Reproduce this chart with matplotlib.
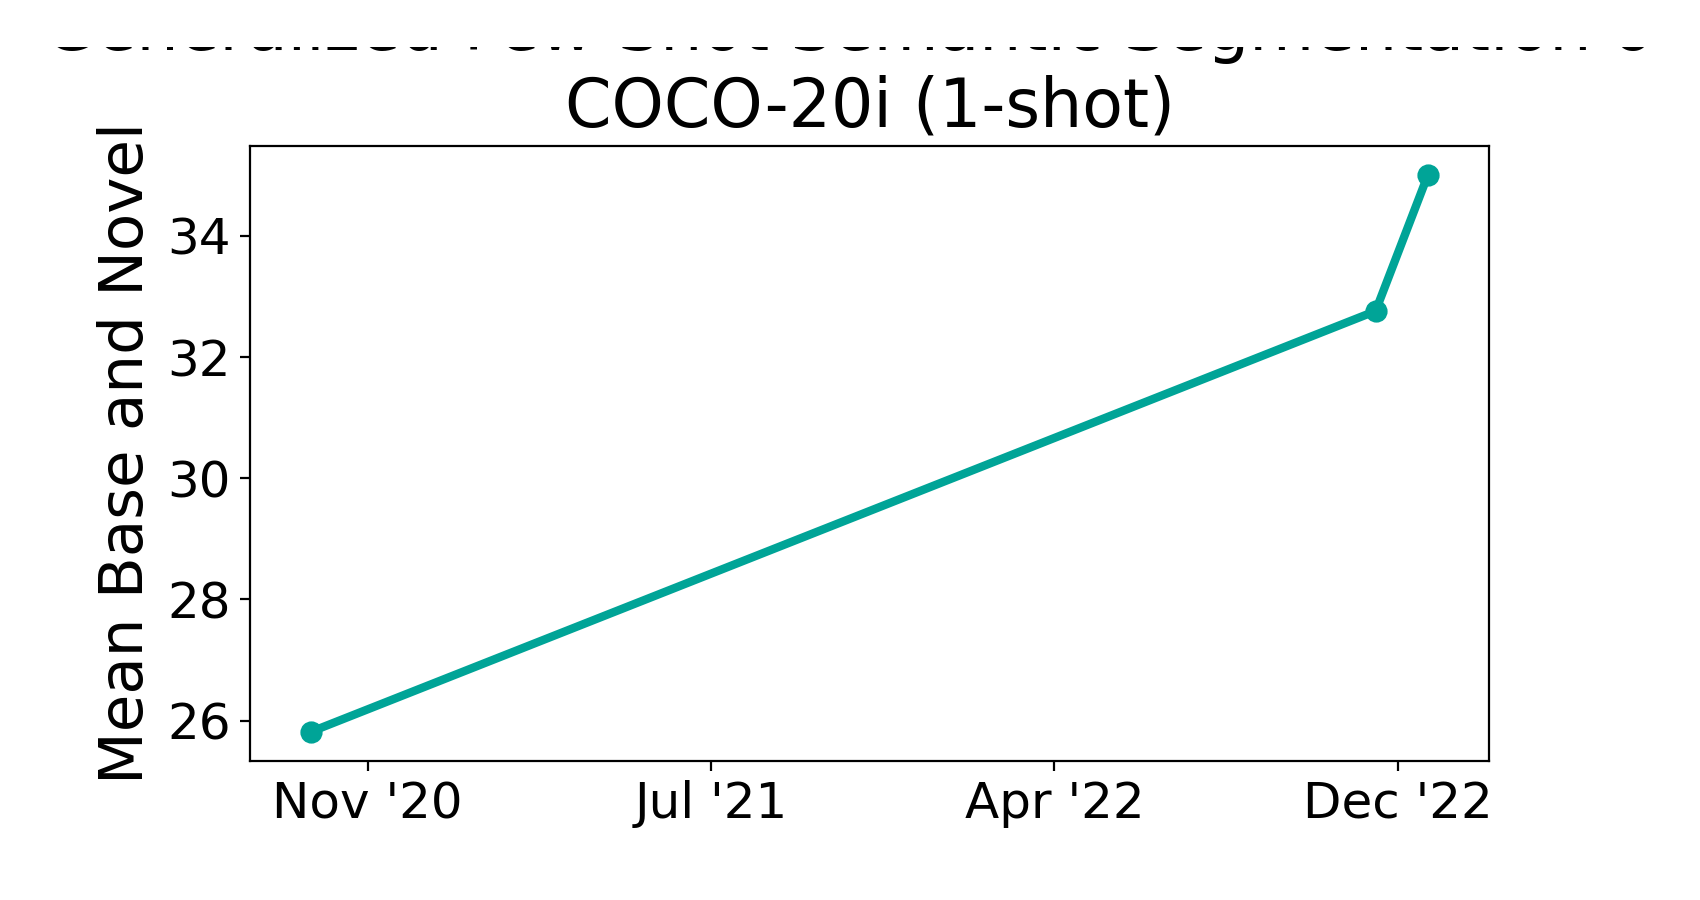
import matplotlib
matplotlib.use("Agg")

import matplotlib.dates as mdates
import matplotlib.pyplot as plt
import numpy as np
from matplotlib.transforms import Bbox, TransformedBbox

# values
release_dates = ["2020-10-11", "2022-11-25", "2023-01-02"]
mean_miou = [25.82, 32.76, 35.0]
tick_range = ["2020-11-21", "2022-12-11"]

title = "Generalized Few-Shot Semantic Segmentation on\nCOCO-20i (1-shot)"
y_label = "Mean Base and Novel"
line_color = "#00a497"


def main() -> None:
    dates = np.array(release_dates, dtype="datetime64[D]").astype("O")

    fig = plt.figure(figsize=(8.5, 4.5), dpi=200)
    ax = fig.add_axes([0.1471, 0.1544, 0.876 - 0.1471, 0.838 - 0.1544])

    ax.plot(dates, mean_miou, color=line_color, linewidth=3, marker="o", markersize=7)
    ax.margins(x=0.055, y=0.053)

    t0, t1 = mdates.date2num(np.array(tick_range, dtype="datetime64[D]").astype("O"))
    ax.set_xticks(np.linspace(t0, t1, 4))
    ax.xaxis.set_major_formatter(mdates.DateFormatter("%b '%y"))
    ax.set_yticks([26, 28, 30, 32, 34])
    ax.tick_params(labelsize=18)

    ax.set_ylabel(y_label, fontsize=22)
    ttl = ax.set_title(title, fontsize=24, pad=7)
    # the top line of the title is cut off in the reference
    clip = Bbox([[0, 0], [1652 / 1700, 1 - 47 / 900]])
    ttl.set_clip_box(TransformedBbox(clip, fig.transFigure))
    ttl.set_clip_on(True)

    fig.savefig("out.png", dpi=200)
    plt.close(fig)


if __name__ == "__main__":
    main()
